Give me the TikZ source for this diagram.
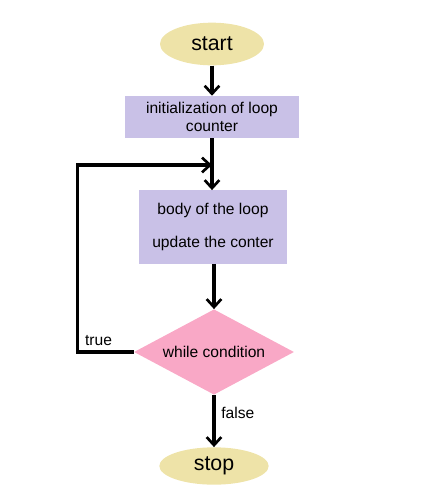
\documentclass[tikz,border=0pt]{standalone}
\usepackage{fontspec}
\setmainfont{Liberation Sans}
\usepackage{xcolor}
\usepackage{tikz}
\usetikzlibrary{shapes.geometric,arrows.meta}

\definecolor{termfill}{HTML}{EEE3A8}
\definecolor{boxfill}{HTML}{C9C1E7}
\definecolor{condfill}{HTML}{F9A8C6}

\tikzset{
	term/.style={ellipse, fill=termfill, inner sep=0pt, minimum width=78pt, minimum height=32pt, font=\fontsize{16}{18}\selectfont},
	block/.style={rectangle, fill=boxfill, inner sep=0pt, align=center, font=\fontsize{11.7}{14}\selectfont},
	cond/.style={diamond, fill=condfill, inner sep=0pt, aspect=1.9, minimum width=120pt, minimum height=64pt, font=\fontsize{11.7}{14}\selectfont},
	flow/.style={line width=2.4pt, -{Straight Barb[length=6pt,width=11pt,line width=2pt]}},
	lbl/.style={font=\fontsize{11.7}{14}\selectfont}
}

\begin{document}
\begin{tikzpicture}[x=0.75pt, y=-0.75pt]
			\useasboundingbox (0,0) rectangle (421,501);
			\node[term] (start) at (212,44) {start};
			\node[block, minimum width=131pt, minimum height=31.5pt] (init) at (212,117) {initialization of loop\\counter};
			\node[block, minimum width=111pt, minimum height=55pt] (body) at (213,227) {body of the loop\\[11pt]update the conter};
			\node[cond] (loop) at (214,352) {while condition};
			\node[term, minimum width=82pt, minimum height=28pt] (stop) at (214,466) {stop};
			\coordinate (merge) at (212,165);

			\draw[flow] (start) -- (init);
			\draw[flow] (init) -- (init |- body.north);
			\draw[flow] (body.south -| loop) -- (loop);
			\draw[flow] (loop) -- node[lbl, right, xshift=1pt, pos=0.35] (falselbl) {false} (stop);
			% back edge of the loop
			\draw[flow] (loop.west) -- ++(-56,0) node[lbl, above right, xshift=1pt] (truelbl) {true} |- (merge);
		\end{tikzpicture}
\end{document}
